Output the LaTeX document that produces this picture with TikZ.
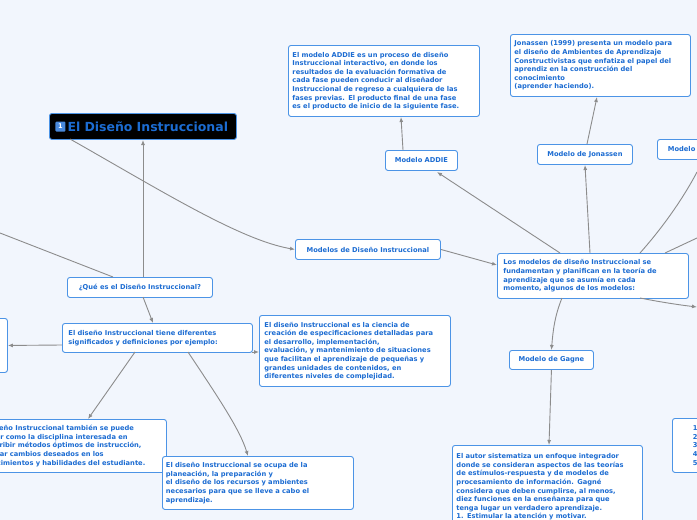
\documentclass[tikz,border=0pt]{standalone}
\usepackage{fontspec}
\setmainfont{DejaVu Sans}
\usetikzlibrary{arrows.meta}
\definecolor{bg}{HTML}{F2F6FD}
\definecolor{bd}{HTML}{4C94E6}
\definecolor{tx}{HTML}{1C6CD2}
\definecolor{ed}{HTML}{8C8C8C}
\newcommand{\numicon}{\raisebox{-0.5pt}{\tikz\node[fill=tx!80,rounded corners=1pt,inner sep=0pt,text=white,font=\bfseries\fontsize{6.5}{6.5}\selectfont,minimum size=10pt]{1};}}
\begin{document}
\begin{tikzpicture}[x=1pt,y=-1pt,
  box/.style={draw=bd,fill=white,rounded corners=2.5pt,line width=0.9pt,anchor=north west,
    font=\bfseries\fontsize{6.7}{8.6}\selectfont,text=tx,align=left,inner xsep=8pt,inner ysep=3pt},
  cbox/.style={box,align=center,inner xsep=2pt},
  con/.style={draw=ed,line width=0.9pt,-{Latex[length=5pt,width=4pt]}},
  lin/.style={draw=ed,line width=0.9pt}]
\fill[bg] (0,0) rectangle (697,520);
\clip (0,0) rectangle (697,520);
% nodes
\node[box,fill=black,text=tx,font=\bfseries\fontsize{12.5}{14}\selectfont,minimum width=187,minimum height=26,inner xsep=6pt,text width=175] (t) at (49,113)
 {\numicon\,El Diseño Instruccional};
\node[cbox,minimum width=145,minimum height=20] (q) at (67,277) {¿Qué es el Diseño Instruccional?};
\node[box,minimum width=190,minimum height=29,text width=178,inner xsep=6pt] (d) at (62,323) {El diseño Instruccional tiene diferentes\\significados y definiciones por ejemplo:};
\node[box,minimum width=40,minimum height=54] (l) at (-33,318) {};
\node[box,minimum width=191,minimum height=71,text width=181,inner xsep=5pt] (c) at (259,315) {El diseño Instruccional es la ciencia de\\creación de especificaciones detalladas para\\el desarrollo, implementación,\\evaluación, y mantenimiento de situaciones\\que facilitan el aprendizaje de pequeñas y\\grandes unidades de contenidos, en\\diferentes niveles de complejidad.};
\node[box,minimum width=191,minimum height=53,text width=184,inner xsep=3pt] (tb) at (-25,419) {El diseño Instruccional también se puede\\definir como la disciplina interesada en\\prescribir métodos óptimos de instrucción,\\al crear cambios deseados en los\\conocimientos y habilidades del estudiante.};
\node[box,minimum width=191,minimum height=53,text width=184,inner xsep=3pt] (o) at (162,456) {El diseño Instruccional se ocupa de la\\planeación, la preparación y\\el diseño de los recursos y ambientes\\necesarios para que se lleve a cabo el\\aprendizaje.};
\node[cbox,minimum width=145,minimum height=20] (m) at (295,239) {Modelos de Diseño Instruccional};
\node[box,minimum width=191,minimum height=45,text width=179,inner xsep=6pt] (lm) at (497,253) {Los modelos de diseño Instruccional se\\fundamentan y planifican en la teoría de\\aprendizaje que se asumía en cada\\momento, algunos de los modelos:};
\node[cbox,minimum width=72,minimum height=20] (a) at (385,150) {Modelo ADDIE};
\node[box,minimum width=191,minimum height=71,text width=183,inner xsep=4pt] (at) at (288,45) {El modelo ADDIE es un proceso de diseño\\Instruccional interactivo, en donde los\\resultados de la evaluación formativa de\\cada fase pueden conducir al diseñador\\Instruccional de regreso a cualquiera de las\\fases previas. El producto final de una fase\\es el producto de inicio de la siguiente fase.};
\node[cbox,minimum width=95,minimum height=20] (j) at (537,144) {Modelo de Jonassen};
\node[box,minimum width=180,minimum height=62,text width=172,inner xsep=4pt] (jt) at (510,34) {Jonassen (1999) presenta un modelo para\\el diseño de Ambientes de Aprendizaje\\Constructivistas que enfatiza el papel del\\aprendiz en la construcción del\\conocimiento\\(aprender haciendo).};
\node[box,minimum width=60,minimum height=20,inner xsep=8pt] (mx) at (657,139) {Modelo de};
\node[cbox,minimum width=84,minimum height=19] (g) at (509,350) {Modelo de Gagne};
\node[box,minimum width=190,minimum height=90,text width=182,inner ysep=4pt,inner xsep=4pt] (gt) at (452,445) {El autor sistematiza un enfoque integrador\\donde se consideran aspectos de las teorías\\de estímulos-respuesta y de modelos de\\procesamiento de información. Gagné\\considera que deben cumplirse, al menos,\\diez funciones en la enseñanza para que\\tenga lugar un verdadero aprendizaje.\\1. Estimular la atención y motivar.\\2.};
\node[box,minimum width=60,minimum height=54,inner xsep=6pt] (li) at (672,418) {1. Pr\\2. Ev\\3. Pr\\4. In\\5. Ev};
% connectors
\coordinate (e1) at (0,233);
\coordinate (e2) at (697,172);
\coordinate (e3) at (697,238);
\coordinate (e4) at (697,307);
\draw[con] (70,139) .. controls (160,190) and (240,240) .. (m.west);
\draw[con] (143,277) -- (143,140);
\draw[lin] (e1) -- (113,277);
\draw[con] (143,297) -- (153,323);
\draw[con] (62,345) -- (l.east);
\draw[con] (252,352) -- (c.west |- 0,352);
\draw[con] (135,352) -- (88,419);
\draw[con] (188,352) .. controls (220,400) and (240,430) .. (248,456);
\draw[con] (m.east) -- (497,265);
\draw[con] (560,253) -- (437,172);
\draw[con] (403,150) -- (401,117);
\draw[con] (590,253) -- (585,165);
\draw[con] (587,144) -- (597,97);
\draw[lin] (640,253) .. controls (665,225) and (685,195) .. (e2);
\draw[lin] (665,253) -- (e3);
\draw[con] (640,298) .. controls (660,302) and (680,305) .. (e4);
\draw[con] (562,298) .. controls (555,315) and (553,330) .. (g.north);
\draw[con] (g.south) -- (549,445);
\end{tikzpicture}
\end{document}
